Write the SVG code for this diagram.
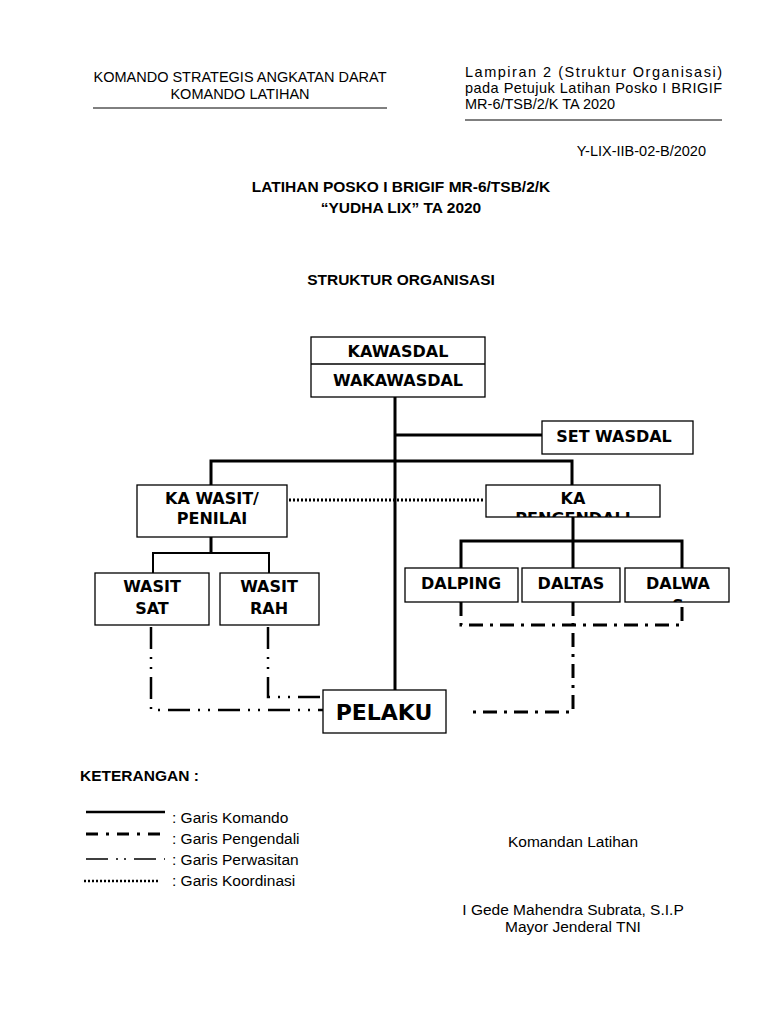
<svg xmlns="http://www.w3.org/2000/svg" width="768" height="1024" viewBox="0 0 768 1024">
<style>
.t{font-family:"Liberation Sans",Arial,sans-serif;font-size:15.5px;fill:#000}
.h{font-family:"Liberation Sans",Arial,sans-serif;font-size:14.5px;fill:#000}
.b{font-family:"Liberation Sans",Arial,sans-serif;font-size:15.5px;font-weight:bold;fill:#000}
.n{font-family:"DejaVu Sans",sans-serif;font-size:16px;font-weight:bold;fill:#000;text-anchor:middle}
.box{fill:#fff;stroke:#000;stroke-width:1.3}
.k{stroke:#000;stroke-width:3;fill:none}
.kt{stroke:#000;stroke-width:2;fill:none}
.p{stroke:#000;stroke-width:3;fill:none;stroke-dasharray:14,7,3,7}
.w{stroke:#000;stroke-width:2.5;fill:none;stroke-dasharray:22,8,2,8,2,8}
.c{stroke:#000;stroke-width:3;fill:none;stroke-dasharray:2,2}
</style>
<defs>
<clipPath id="cpk"><rect x="486" y="485" width="174" height="32"/></clipPath>
<clipPath id="cpd"><rect x="625" y="568" width="104" height="34"/></clipPath>
</defs>
<rect width="768" height="1024" fill="#fff"/>
<g id="header">
<text class="h" x="240" y="82" text-anchor="middle">KOMANDO STRATEGIS ANGKATAN DARAT</text>
<text class="h" x="240" y="99" text-anchor="middle">KOMANDO LATIHAN</text>
<line x1="93" y1="108" x2="387" y2="108" stroke="#000" stroke-width="1"/>
<text class="h" x="465" y="77" textLength="257" lengthAdjust="spacing">Lampiran  2  (Struktur  Organisasi)</text>
<text class="h" x="465" y="93" textLength="257" lengthAdjust="spacing">pada Petujuk Latihan Posko I BRIGIF</text>
<text class="h" x="465" y="109">MR-6/TSB/2/K TA 2020</text>
<line x1="465" y1="120" x2="722" y2="120" stroke="#000" stroke-width="1"/>
<text class="h" x="706" y="156" text-anchor="end">Y-LIX-IIB-02-B/2020</text>
<text class="b" x="401" y="192" text-anchor="middle">LATIHAN POSKO I BRIGIF MR-6/TSB/2/K</text>
<text class="b" x="401" y="213" text-anchor="middle">“YUDHA LIX” TA 2020</text>
<text class="b" x="401" y="285" text-anchor="middle">STRUKTUR ORGANISASI</text>
</g>
<g id="connectors">
<line class="k" x1="395" y1="397" x2="395" y2="690"/>
<line class="k" x1="395" y1="435" x2="542" y2="435"/>
<polyline class="k" points="211,485 211,461 572,461 572,485"/>
<line class="c" x1="289" y1="500" x2="484" y2="500"/>
<line class="k" x1="211" y1="537" x2="211" y2="553"/>
<polyline class="kt" points="153,573 153,553 269,553 269,573"/>
<line class="k" x1="573" y1="517" x2="573" y2="568"/>
<polyline class="k" points="461,568 461,541 682,541 682,568"/>
<polyline class="p" points="461,602 461,625 682,625 682,602"/>
<polyline class="p" points="573,602 573,712 470,712"/>
<polyline class="w" points="151,627 151,710 323,710"/>
<polyline class="w" points="268,627 268,697 323,697"/>
</g>
<g id="kawasdal"><rect class="box" x="311" y="337" width="174" height="60"/><line x1="311" y1="364" x2="485" y2="364" stroke="#000" stroke-width="1.3"/>
<text class="n" x="398" y="357">KAWASDAL</text><text class="n" x="398" y="386">WAKAWASDAL</text></g>
<g id="setwasdal"><rect class="box" x="542" y="421" width="151" height="33"/><text class="n" x="614" y="442">SET WASDAL</text></g>
<g id="kawasit"><rect class="box" x="137" y="485" width="150" height="52"/><text class="n" x="212" y="504">KA WASIT/</text><text class="n" x="212" y="524">PENILAI</text></g>
<g id="kapengendali"><rect class="box" x="486" y="485" width="174" height="32"/><g clip-path="url(#cpk)"><text class="n" x="573" y="504">KA</text><text class="n" x="573" y="524">PENGENDALI</text></g></g>
<g id="wasitsat"><rect class="box" x="95" y="573" width="114" height="52"/><text class="n" x="152" y="592">WASIT</text><text class="n" x="152" y="614">SAT</text></g>
<g id="wasitrah"><rect class="box" x="220" y="573" width="99" height="52"/><text class="n" x="269" y="592">WASIT</text><text class="n" x="269" y="614">RAH</text></g>
<g id="dalping"><rect class="box" x="405" y="568" width="113" height="34"/><text class="n" x="461" y="589">DALPING</text></g>
<g id="daltas"><rect class="box" x="522" y="568" width="98" height="34"/><text class="n" x="571" y="589">DALTAS</text></g>
<g id="dalwas"><rect class="box" x="625" y="568" width="104" height="34"/><g clip-path="url(#cpd)"><text class="n" x="678" y="589">DALWA</text><text class="n" x="678" y="611">S</text></g></g>
<g id="pelaku"><rect class="box" x="323" y="690" width="123" height="43"/><text class="n" x="384" y="720" style="font-size:22px">PELAKU</text></g>
<g id="legend">
<text class="b" x="80" y="781">KETERANGAN  :</text>
<line x1="86" y1="812" x2="165" y2="812" stroke="#000" stroke-width="2.5"/>
<line x1="86" y1="834" x2="165" y2="834" stroke="#000" stroke-width="3" stroke-dasharray="12,8,3,8"/>
<line x1="86" y1="859" x2="165" y2="859" stroke="#000" stroke-width="1.5" stroke-dasharray="22,8,2,6,2,8"/>
<line x1="84" y1="881" x2="160" y2="881" stroke="#000" stroke-width="2.5" stroke-dasharray="2,2"/>
<text class="t" x="172" y="823">: Garis Komando</text>
<text class="t" x="172" y="844">: Garis Pengendali</text>
<text class="t" x="172" y="865">: Garis Perwasitan</text>
<text class="t" x="172" y="886">: Garis Koordinasi</text>
</g>
<g id="signature">
<text class="t" x="573" y="847" text-anchor="middle">Komandan Latihan</text>
<text class="t" x="573" y="915" text-anchor="middle">I Gede Mahendra Subrata, S.I.P</text>
<text class="t" x="573" y="932" text-anchor="middle">Mayor Jenderal TNI</text>
</g>
</svg>
